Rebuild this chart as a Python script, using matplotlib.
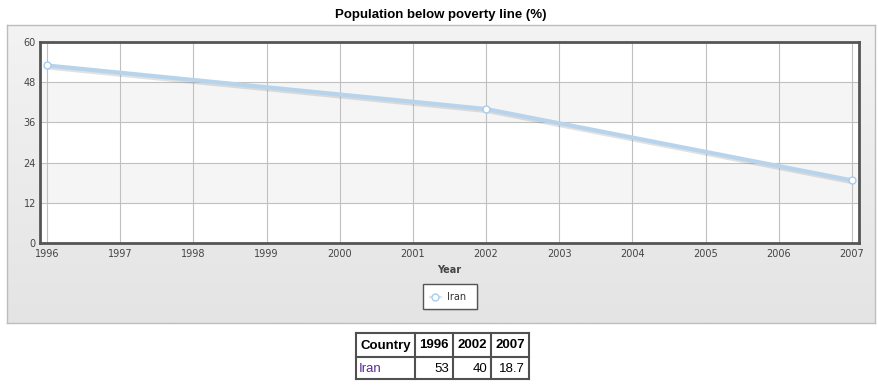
import matplotlib
matplotlib.use("Agg")
import matplotlib.pyplot as plt
import matplotlib.patheffects as pe
from matplotlib.patches import Rectangle
from matplotlib.colors import LinearSegmentedColormap
import numpy as np

# ---- data ----
years = [1996, 2002, 2007]
values = [53, 40, 18.7]
country = "Iran"
x_ticks = list(range(1996, 2008))
y_ticks = [0, 12, 24, 36, 48, 60]
title = "Population below poverty line (%)"
x_label = "Year"

W, H = 879, 386
fig = plt.figure(figsize=(W / 100, H / 100), dpi=100)
fig.patch.set_facecolor("white")

def fx(px):
    return px / W

def fy(py):
    return 1 - py / H

# ---- panel background (gradient) ----
px0, py0, px1, py1 = 7, 25, 875, 323
bg = fig.add_axes([fx(px0), fy(py1), fx(px1 - px0), (py1 - py0) / H])
grad = np.linspace(0, 1, 256).reshape(-1, 1)
cmap = LinearSegmentedColormap.from_list("g", ["#f3f3f3", "#e4e4e4"])
bg.imshow(grad, aspect="auto", cmap=cmap, extent=[0, 1, 0, 1], origin="upper")
bg.set_xlim(0, 1); bg.set_ylim(0, 1)
bg.set_xticks([]); bg.set_yticks([])
for s in bg.spines.values():
    s.set_color("#bdbdbd"); s.set_linewidth(1)
bg.set_zorder(0)

# ---- title ----
fig.text(fx(441), fy(15), title, ha="center", va="center", fontsize=9.5,
         fontweight="bold", family="Liberation Sans", color="#000000")

# ---- main axes ----
al, ar, at, ab = 40, 859, 42, 243
ax = fig.add_axes([fx(al), fy(ab), fx(ar - al), (ab - at) / H])
ax.set_zorder(2)
ax.set_facecolor("white")
pad = 7 / ((ar - al - 14) / (x_ticks[-1] - x_ticks[0]))
ax.set_xlim(x_ticks[0] - pad, x_ticks[-1] + pad)
ax.set_ylim(y_ticks[0], y_ticks[-1])

for i in range(len(y_ticks) - 1):
    if i % 2 == 1:
        ax.axhspan(y_ticks[i], y_ticks[i + 1], color="#f5f5f5", zorder=0, lw=0)

ax.set_xticks(x_ticks)
ax.set_yticks(y_ticks)
ax.grid(True, color="#c0c0c0", linewidth=0.8, zorder=1)
ax.set_axisbelow(True)
ax.tick_params(axis="both", length=0, labelsize=7, colors="#444444", pad=3)
ax.tick_params(axis="x", pad=4)
for lbl in ax.get_xticklabels() + ax.get_yticklabels():
    lbl.set_family("DejaVu Sans")
for s in ax.spines.values():
    s.set_color("#555555"); s.set_linewidth(2)

ax.plot(years, values, color="#b8d4ec", linewidth=3, zorder=3, solid_capstyle="round",
        path_effects=[pe.SimpleLineShadow(offset=(1, -1.5), shadow_color="#888888", alpha=0.25),
                      pe.Normal()])
ax.plot(years, values, linestyle="none", marker="o", markersize=5, markerfacecolor="white",
        markeredgecolor="#a8cdef", markeredgewidth=1, zorder=4, clip_on=False)

fig.text(fx(449), fy(270), x_label, ha="center", va="center", fontsize=7,
         fontweight="bold", color="#444444", family="DejaVu Sans")

# ---- legend ----
lx0, ly0, lx1, ly1 = 423, 284, 477, 309
lax = fig.add_axes([0, 0, 1, 1], zorder=3)
lax.set_xlim(0, W); lax.set_ylim(H, 0)
lax.axis("off")
lax.add_patch(Rectangle((lx0 + 2, ly0 + 2), lx1 - lx0, ly1 - ly0, facecolor="#cfcfcf",
                        edgecolor="none", alpha=0.6))
lax.add_patch(Rectangle((lx0, ly0), lx1 - lx0, ly1 - ly0, facecolor="white",
                        edgecolor="#555555", linewidth=1))
lax.plot([430, 441], [297, 297], color="#d6e6f5", linewidth=1.5)
lax.plot([435.5], [297], marker="o", markersize=5, markerfacecolor="white",
         markeredgecolor="#a8cdef", markeredgewidth=1)
lax.text(447, 297, country, ha="left", va="center", fontsize=7, color="#333333",
         family="DejaVu Sans")

# ---- table ----
col_edges = [356, 415, 453, 491, 529]
row_edges = [333, 357, 379]
header = ["Country"] + [str(y) for y in years]
row = [country] + [("%g" % v) for v in values]
tcol = "#505050"
for xe in col_edges:
    lax.plot([xe, xe], [row_edges[0], row_edges[-1]], color=tcol, linewidth=1.5,
             solid_capstyle="projecting")
for ye in row_edges:
    lax.plot([col_edges[0], col_edges[-1]], [ye, ye], color=tcol, linewidth=1.5,
             solid_capstyle="projecting")
for c in range(4):
    cx0, cx1 = col_edges[c], col_edges[c + 1]
    cyh = (row_edges[0] + row_edges[1]) / 2
    lax.text((cx0 + cx1) / 2, cyh + 0.5, header[c], ha="center", va="center", fontsize=9.5,
             fontweight="bold", family="Liberation Sans", color="black")
    cyr = (row_edges[1] + row_edges[2]) / 2
    if c == 0:
        lax.text(cx0 + 3, cyr + 0.5, row[c], ha="left", va="center", fontsize=9.5,
                 family="Liberation Sans", color="#5a2d91")
    else:
        lax.text(cx1 - 4, cyr + 0.5, row[c], ha="right", va="center", fontsize=9.5,
                 family="Liberation Sans", color="black")

fig.savefig("out.png", dpi=100)
